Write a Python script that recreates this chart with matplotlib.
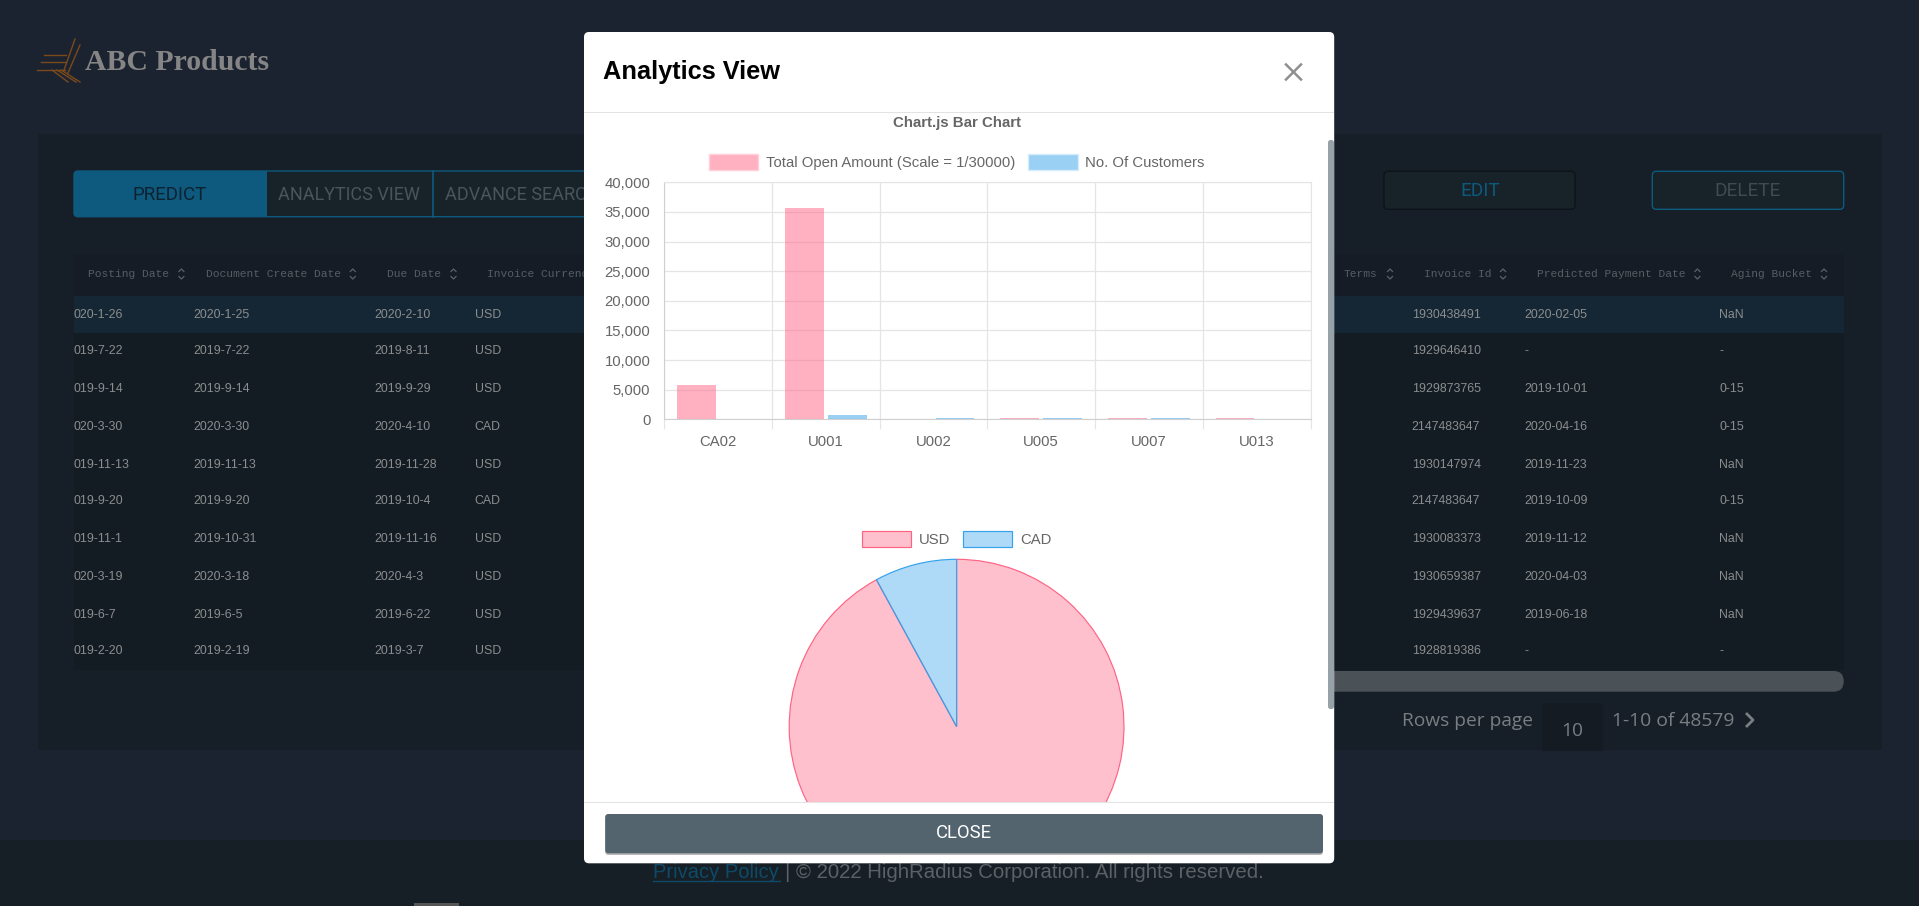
import matplotlib
matplotlib.use('Agg')
import matplotlib.pyplot as plt
from matplotlib.patches import Rectangle, FancyBboxPatch, Patch

plt.rcParams['font.family'] = ['Liberation Sans', 'DejaVu Sans']

# chart data
categories = ['CA02', 'U001', 'U002', 'U005', 'U007', 'U013']
open_amount = [5800, 35600, 60, 170, 170, 290]
customers = [60, 800, 170, 170, 170, 60]
y_ticks = [0, 5000, 10000, 15000, 20000, 25000, 30000, 35000, 40000]
currencies = ['USD', 'CAD']
currency_share = [92.05, 7.95]

# table behind the dialog
posting = ['020-1-26', '019-7-22', '019-9-14', '020-3-30', '019-11-13', '019-9-20', '019-11-1', '020-3-19', '019-6-7', '019-2-20']
created = ['2020-1-25', '2019-7-22', '2019-9-14', '2020-3-30', '2019-11-13', '2019-9-20', '2019-10-31', '2020-3-18', '2019-6-5', '2019-2-19']
due = ['2020-2-10', '2019-8-11', '2019-9-29', '2020-4-10', '2019-11-28', '2019-10-4', '2019-11-16', '2020-4-3', '2019-6-22', '2019-3-7']
currency = ['USD', 'USD', 'USD', 'CAD', 'USD', 'CAD', 'USD', 'USD', 'USD', 'USD']
invoice_id = ['1930438491', '1929646410', '1929873765', '2147483647', '1930147974', '2147483647', '1930083373', '1930659387', '1929439637', '1928819386']
predicted = ['2020-02-05', '-', '2019-10-01', '2020-04-16', '2019-11-23', '2019-10-09', '2019-11-12', '2020-04-03', '2019-06-18', '-']
aging = ['NaN', '-', '0-15', '0-15', 'NaN', '0-15', 'NaN', 'NaN', 'NaN', '-']
row_y = [314.5, 351.5, 389.5, 426.5, 464.5, 501.5, 539.5, 576.5, 614.5, 651.5]
headers = [('Posting Date', 88.4, 181.4), ('Document Create Date', 206.3, 352.8), ('Due Date', 387, 453.5),
           ('Invoice Currency', 487, None), ('Terms', 1344, 1390), ('Invoice Id', 1424, 1503),
           ('Predicted Payment Date', 1537, 1697.4), ('Aging Bucket', 1731.4, 1824)]

W, H = 1919, 906
PINK = '#FF6384'
BLUE = '#36A2EB'
TEAL = '#0E5A7F'


def px_axes(fig, x0, y0, x1, y1):
    return fig.add_axes([x0 / W, 1 - y1 / H, (x1 - x0) / W, (y1 - y0) / H])


fig = plt.figure(figsize=(W / 100, H / 100), dpi=100, facecolor='#1C2330')
bg = fig.add_axes([0, 0, 1, 1], zorder=0)
bg.set_xlim(0, W)
bg.set_ylim(H, 0)
bg.axis('off')


def rect(x0, y0, x1, y1, color, z=1, **kw):
    bg.add_patch(Rectangle((x0, y0), x1 - x0, y1 - y0, facecolor=color, edgecolor=kw.pop('edge', 'none'), zorder=z, **kw))


def rrect(x0, y0, x1, y1, color, r=4, z=1, edge='none', lw=1):
    bg.add_patch(FancyBboxPatch((x0 + r, y0 + r), x1 - x0 - 2 * r, y1 - y0 - 2 * r, boxstyle=f'round,pad={r},rounding_size={r}',
                                facecolor=color, edgecolor=edge, linewidth=lw, zorder=z))


def label(x, y, s, size, color, ha='left', z=3, **kw):
    return bg.text(x, y, s, fontsize=size * 0.72, color=color, ha=ha, va='center', zorder=z, **kw)


# page background
rect(0, 840, W, H, '#161F25')
rect(414, 902.7, 459, H, '#555555')
rect(38, 134, 1882, 750, '#161F27')

# logo
logo_lines = [([37, 65], [70, 70]), ([41, 66], [62, 62]), ([44, 66], [55, 55]),
              ([64, 75], [70, 39]), ([68, 80], [73, 45]), ([52, 68], [70, 82]), ([57, 76], [70, 82]), ([61, 80], [70, 82])]
for xs, ys in logo_lines:
    bg.plot(xs, ys, color='#7A4A1C', lw=1.0, zorder=2)
label(85, 63, 'ABC Products', 29.8, '#858585', family='Liberation Serif', fontweight='bold')

# top buttons
rrect(74, 171, 700, 216.7, '#182229', edge=TEAL)
rrect(74, 171, 266.7, 216.7, TEAL, z=2)
rect(260, 171, 266.7, 216.7, TEAL, z=2)
bg.plot([432.8, 432.8], [171, 216.7], color=TEAL, lw=1.2, zorder=2)
label(170, 195, 'PREDICT', 18.8, '#0D2231', ha='center', family='Roboto')
label(278, 195, 'ANALYTICS VIEW', 18, '#4A545C', family='Roboto')
label(445, 195, 'ADVANCE SEARCH', 18, '#4A545C', family='Roboto')
rrect(1384, 171.3, 1575, 209.3, '#172229', edge='#0D1318')
label(1480, 191, 'EDIT', 19, TEAL, ha='center', family='Roboto')
rrect(1652.3, 171.3, 1843.7, 209.3, '#172229', edge=TEAL)
label(1748, 191, 'DELETE', 19, '#3F4A52', ha='center', family='Roboto')

# table
rect(74, 254, 1843.7, 296, '#151C25')
rect(74, 296, 1843.7, 670, '#141C23')
rect(74, 296, 1843.7, 332.7, '#152734', z=1.5)
for name, x, icon_x in headers:
    label(x, 274, name, 11.2, '#565E64', family='Liberation Mono')
    if icon_x:
        bg.plot([icon_x - 2.5, icon_x, icon_x + 2.5], [271.5, 269, 271.5], color='#5A6268', lw=0.9, zorder=3)
        bg.plot([icon_x - 2.5, icon_x, icon_x + 2.5], [276.5, 279, 276.5], color='#5A6268', lw=0.9, zorder=3)
for col, x in [(posting, 74), (created, 193.6), (due, 374.3), (currency, 474.5), (invoice_id, 1411.7), (predicted, 1524.7), (aging, 1719)]:
    for y, s in zip(row_y, col):
        label(x, y, s, 12.4, '#8B8D8E')
rrect(1000, 671, 1843.7, 691.7, '#4B5257', r=10, z=2)

# pagination
label(1402.5, 721.5, 'Rows per page', 19.1, '#797E82', family='Open Sans')
rect(1541.5, 703, 1602.7, 750.7, '#141B22', z=1.5)
label(1572, 731.5, '10', 19.1, '#797E82', ha='center', family='Open Sans')
label(1612, 721.5, '1-10 of 48579', 19.3, '#797E82', family='Open Sans')
bg.plot([1747, 1753, 1747], [714, 720, 726], color='#797E82', lw=2, zorder=3)

# footer
label(652.7, 872, 'Privacy Policy', 20.1, '#0E4A68')
bg.plot([652.7, 780], [881, 881], color='#0E4A68', lw=1, zorder=3)
label(785, 872, '| © 2022 HighRadius Corporation. All rights reserved.', 20.35, '#5C6165')

# dialog
rrect(584, 32, 1334.2, 863.3, 'white', r=5, z=5)
rect(584, 112.2, 1334.2, 113.4, '#E3E3E3', z=6)
rect(584, 801.8, 1334.2, 803, '#E3E3E3', z=6)
label(603.4, 72.5, 'Analytics View', 25.4, 'black', z=6, fontweight='bold')
bg.plot([1286, 1301], [64.5, 79.5], color='#8F8F8F', lw=1.8, zorder=6)
bg.plot([1286, 1301], [79.5, 64.5], color='#8F8F8F', lw=1.8, zorder=6)
rrect(1328, 140, 1334, 709, '#97A2A8', r=2.5, z=6)
rrect(605.2, 815, 1323, 855, '#B8B8B8', r=3, z=6)
rrect(605.2, 814, 1323, 853.3, '#53646E', r=3, z=6.5)
label(963.4, 833.3, 'CLOSE', 18.5, 'white', ha='center', z=7, family='Roboto')

# bar chart
ax = px_axes(fig, 664.3, 182.3, 1310.5, 419.3)
ax.set_zorder(2)
ax.patch.set_alpha(0)
x = list(range(len(categories)))
ax.bar([i - 0.2 for i in x], open_amount, width=0.36, color=(1, 99 / 255, 132 / 255, 0.5), zorder=3)
ax.bar([i + 0.2 for i in x], customers, width=0.36, color=(54 / 255, 162 / 255, 235 / 255, 0.5), zorder=3)
ax.set_xlim(-0.5, 5.5)
ax.set_ylim(0, 40000)
ax.set_yticks(y_ticks)
ax.set_yticklabels([f'{v:,}' for v in y_ticks])
ax.set_xticks([i - 0.5 for i in range(7)])
ax.set_xticklabels([''] * 7)
ax.set_xticks(x, minor=True)
ax.set_xticklabels(categories, minor=True)
ax.tick_params(axis='y', length=0, pad=10, labelsize=10.7, labelcolor='#666666')
ax.tick_params(axis='x', which='major', length=7.2, width=0.8, color='#E5E5E5')
ax.tick_params(axis='x', which='minor', length=0, pad=11.3, labelsize=10.7, labelcolor='#666666')
ax.grid(True, which='major', color='#E5E5E5', lw=0.9, zorder=0)
ax.set_axisbelow(True)
for side in ['top', 'right']:
    ax.spines[side].set_color('#E5E5E5')
ax.spines['left'].set_color('#D0D0D0')
ax.spines['bottom'].set_color('#D0D0D0')
ax.set_title('Chart.js Bar Chart', x=0.4523, fontsize=10.8, fontweight='bold', color='#666666', pad=39.5)
ax.legend(handles=[Patch(facecolor=(1, 99 / 255, 132 / 255, 0.5), edgecolor='#FFD0DA', label='Total Open Amount (Scale = 1/30000)'),
                   Patch(facecolor=(54 / 255, 162 / 255, 235 / 255, 0.5), edgecolor='#D6ECFB', label='No. Of Customers')],
          loc='center', bbox_to_anchor=(0.4525, 1.085), ncol=2, frameon=False, fontsize=10.75, labelcolor='#666666',
          handlelength=3.3, handleheight=1.25, handletextpad=0.5, columnspacing=0.9, borderpad=0, borderaxespad=0)

# pie chart, cut off by the dialog footer
pie_ax = px_axes(fig, 788, 558, 1125, 802)
pie_ax.set_zorder(2)
wedges, _ = pie_ax.pie(currency_share, colors=[(1, 99 / 255, 132 / 255, 0.4), (54 / 255, 162 / 255, 235 / 255, 0.4)],
                       startangle=90, counterclock=False, radius=167.4,
                       wedgeprops={'linewidth': 0.85, 'clip_on': True})
for w, c in zip(wedges, [PINK, BLUE]):
    w.set_edgecolor(c)
pie_ax.set_xlim(-168.6, 168.4)
pie_ax.set_ylim(726.7 - 802, 726.7 - 558)
pie_ax.set_aspect('equal', adjustable='box')
pie_ax.legend(wedges, currencies, loc='center', bbox_to_anchor=(0.5, 1.0), ncol=2, frameon=False, fontsize=10.75, labelcolor='#666666',
              handlelength=3.3, handleheight=1.25, handletextpad=0.5, columnspacing=0.9, borderpad=0, borderaxespad=0)
leg = pie_ax.get_legend()
leg.set_bbox_to_anchor((956.5 / W, 1 - 539 / H), transform=fig.transFigure)

fig.savefig('out.png', dpi=100, facecolor=fig.get_facecolor())
